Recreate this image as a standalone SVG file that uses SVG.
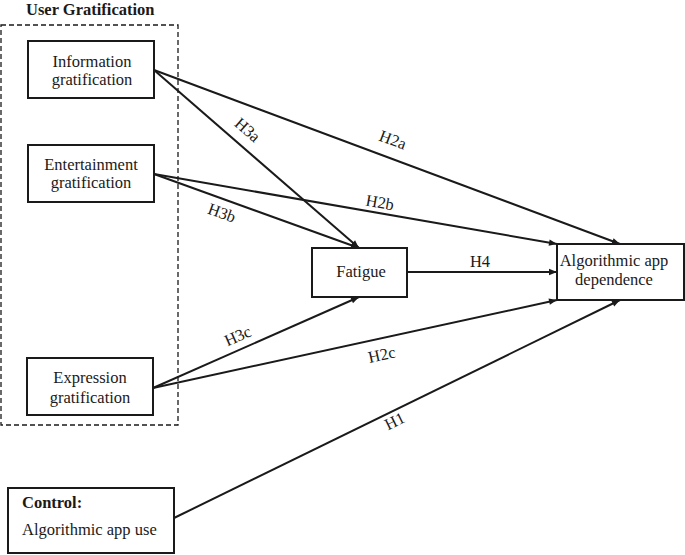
<svg xmlns="http://www.w3.org/2000/svg" width="685" height="555" viewBox="0 0 685 555">
<defs>
<marker id="ah" viewBox="0 0 10 10" refX="10" refY="5" markerWidth="9" markerHeight="8" markerUnits="userSpaceOnUse" orient="auto">
<path d="M0,1 L10,5 L0,9 Z" fill="#1a1a1a"/>
</marker>
<style>
.box{fill:#fff;stroke:#1a1a1a;stroke-width:2}
.t{font-size:16.5px;fill:#1a1a1a;text-anchor:middle}
.b{font-weight:bold}
.c{stroke:#1a1a1a;stroke-width:2;fill:none;marker-end:url(#ah)}
.lab{font-size:16.5px;fill:#1a1a1a;text-anchor:middle}
</style>
</defs>
<rect width="685" height="555" fill="#fff"/>
<g font-family="'Liberation Serif', 'Times New Roman', serif">
<g id="group-user-gratification">
<rect x="1" y="25" width="177" height="400" fill="none" stroke="#1a1a1a" stroke-width="1.3" stroke-dasharray="5,3"/>
<text class="t b" x="26" y="15" style="text-anchor:start">User Gratification</text>
</g>
<g id="connectors">
<line class="c" x1="154" y1="70" x2="359" y2="248"/>
<line class="c" x1="154" y1="70" x2="620" y2="244"/>
<line class="c" x1="154" y1="174" x2="359" y2="248"/>
<line class="c" x1="154" y1="174" x2="557" y2="244"/>
<line class="c" x1="407" y1="272" x2="557" y2="272"/>
<line class="c" x1="153" y1="388" x2="359" y2="297"/>
<line class="c" x1="153" y1="388" x2="557" y2="300"/>
<line class="c" x1="174" y1="518" x2="620" y2="300"/>
<text class="lab" transform="translate(244,134) rotate(41)">H3a</text>
<text class="lab" transform="translate(391,145) rotate(20.5)">H2a</text>
<text class="lab" transform="translate(220,218) rotate(19.8)">H3b</text>
<text class="lab" transform="translate(379,208) rotate(9.9)">H2b</text>
<text class="lab" x="480" y="267">H4</text>
<text class="lab" transform="translate(240,341) rotate(-23.8)">H3c</text>
<text class="lab" transform="translate(383,360) rotate(-12.3)">H2c</text>
<text class="lab" transform="translate(397,426) rotate(-26)">H1</text>
</g>
<g id="info">
<rect class="box" x="28" y="41" width="126" height="57"/>
<text class="t" x="92" y="67">Information</text>
<text class="t" x="92" y="85">gratification</text>
</g>
<g id="entertainment">
<rect class="box" x="28" y="145" width="126" height="57"/>
<text class="t" x="91" y="170">Entertainment</text>
<text class="t" x="91" y="188">gratification</text>
</g>
<g id="expression">
<rect class="box" x="27" y="358" width="126" height="57"/>
<text class="t" x="90" y="383">Expression</text>
<text class="t" x="90" y="403">gratification</text>
</g>
<g id="control">
<rect class="box" x="8" y="488" width="166" height="65"/>
<text class="t b" x="22" y="508" style="text-anchor:start">Control:</text>
<text class="t" x="22" y="535" style="text-anchor:start">Algorithmic app use</text>
</g>
<g id="fatigue">
<rect class="box" x="312" y="248" width="95" height="49"/>
<text class="t" x="361" y="277">Fatigue</text>
</g>
<g id="dependence">
<rect class="box" x="557" y="244" width="127" height="56"/>
<text class="t" x="614" y="266">Algorithmic app</text>
<text class="t" x="614" y="285">dependence</text>
</g>
</g>
</svg>
